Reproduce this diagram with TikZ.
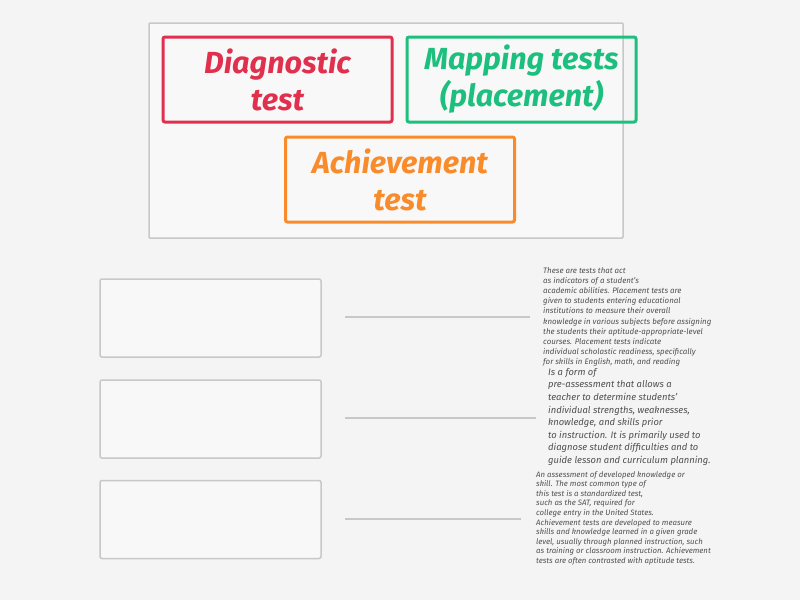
\documentclass[tikz,border=0pt]{standalone}
\usepackage{fontspec}
\setmainfont{Fira Sans}
\usepackage{tikz}
\usetikzlibrary{positioning}
\definecolor{bgpage}{HTML}{F5F4F5}
\definecolor{panel}{HTML}{F8F8F8}
\definecolor{frame}{HTML}{C8C8C8}
\definecolor{diagred}{HTML}{E0304E}
\definecolor{mapgreen}{HTML}{1DBF7E}
\definecolor{achorange}{HTML}{F98B2B}
\definecolor{desctext}{HTML}{505050}

\begin{document}
\begin{tikzpicture}[x=1pt, y=-1pt,
    card/.style={draw=#1, text=#1, line width=3pt, rounded corners=2pt,
        minimum width=229pt, minimum height=85pt, align=center, inner sep=0pt,
        font=\fontsize{30.5}{37}\selectfont\bfseries\itshape},
    slot/.style={draw=frame, fill=panel, line width=1.5pt, rounded corners=2pt,
        minimum width=221pt, minimum height=78pt},
    desc/.style={anchor=north west, inner sep=0pt, align=left, text=desctext}]
    % page and top panel
    \fill[bgpage] (0,0) rectangle (800,600);
    \draw[frame, fill=panel, line width=1.5pt, rounded corners=1pt] (149,23) rectangle (623,238);

    % terms to drag
    \node[card=diagred] (diag) at (277.5,79.5) {Diagnostic\\test};
    \node[card=mapgreen] (mapping) at (521.5,79.5) {Mapping tests\\(placement)};
    \node[card=achorange] (achieve) at (400,179.5) {Achievement\\test};

    % empty answer slots
    \node[slot] (slotA) at (210.5,318) {};
    \node[slot] (slotB) at (210.5,419) {};
    \node[slot] (slotC) at (210.5,519.5) {};

    % lines to the descriptions
    \coordinate (lineA) at (530,317);
    \coordinate (lineB) at (536,418);
    \coordinate (lineC) at (521,519);
    \draw[frame, line width=1.5pt] (345,317) -- (lineA);
    \draw[frame, line width=2.5pt] (345,418) -- (lineB);
    \draw[frame, line width=1.5pt] (345,519) -- (lineC);

    % descriptions
    \node[desc, font=\fontsize{7.9}{10.2}\selectfont\itshape] (descA) at (543,267)
        {These are tests that act\\
         as indicators of a student's\\
         academic abilities. Placement tests are\\
         given to students entering educational\\
         institutions to measure their overall\\
         knowledge in various subjects before assigning\\
         the students their aptitude-appropriate-level\\
         courses. Placement tests indicate\\
         individual scholastic readiness, specifically\\
         for skills in English, math, and reading};
    \node[desc, font=\fontsize{9.4}{12.6}\selectfont\itshape] (descB) at (548,368)
        {Is a form of\\
         pre-assessment that allows a\\
         teacher to determine students'\\
         individual strengths, weaknesses,\\
         knowledge, and skills prior\\
         to instruction. It is primarily used to\\
         diagnose student difficulties and to\\
         guide lesson and curriculum planning.};
    \node[desc, font=\fontsize{7.8}{9.6}\selectfont\itshape] (descC) at (536,471)
        {An assessment of developed knowledge or\\
         skill. The most common type of\\
         this test is a standardized test,\\
         such as the SAT, required for\\
         college entry in the United States.\\
         Achievement tests are developed to measure\\
         skills and knowledge learned in a given grade\\
         level, usually through planned instruction, such\\
         as training or classroom instruction. Achievement\\
         tests are often contrasted with aptitude tests.};
\end{tikzpicture}
\end{document}
